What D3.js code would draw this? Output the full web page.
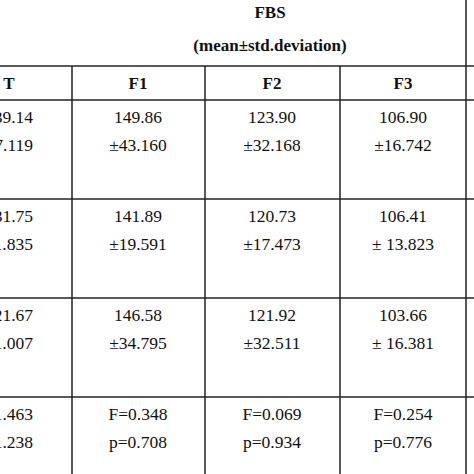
<!DOCTYPE html><html><head><meta charset="utf-8"><script src="https://cdn.jsdelivr.net/npm/d3@7"></script>
<style>body{margin:0;background:#fff}</style></head><body><svg id="c" width="474" height="474"></svg>
<script>
const columns=["T","F1","F2","F3"];
const meanRow=[["139.14","149.86","123.90","106.90"],["131.75","141.89","120.73","106.41"],["121.67","146.58","121.92","103.66"]];
const sdRow=[["±27.119","±43.160","±32.168","±16.742"],["±11.835","±19.591","±17.473","± 13.823"],["±11.007","±34.795","±32.511","± 16.381"]];
const statRow1=["1.463","F=0.348","F=0.069","F=0.254"];
const statRow2=["1.238","p=0.708","p=0.934","p=0.776"];
const svg=d3.select("#c");
const font="'Liberation Serif','DejaVu Serif',serif";
const x=d3.scaleOrdinal().domain(columns).range([-30,138,272,403]);
const lines=[72,205,340,466];
const rows=d3.scaleLinear().domain([0,4]).range([100,496]);
const g=svg.append("g").attr("stroke","#222").attr("stroke-width",1.5);
g.append("line").attr("x1",0).attr("x2",474).attr("y1",66).attr("y2",66);
[0,1,2,3].forEach(i=>g.append("line").attr("x1",0).attr("x2",474).attr("y1",rows(i)).attr("y2",rows(i)));
lines.forEach((lx,i)=>g.append("line").attr("x1",lx).attr("x2",lx).attr("y1",i==3?0:66).attr("y2",474));
const t=(s,xx,yy,b,anchor,fs)=>svg.append("text").attr("x",xx).attr("y",yy).attr("text-anchor",anchor||"middle").attr("font-family",font).attr("font-size",fs||17.5).attr("font-weight",b?"bold":"normal").attr("fill","#111").text(s);
t("FBS",270,18,true,"middle",17);t("(mean±std.deviation)",270,51,true,"middle",17);
columns.forEach((c,i)=>t(c,i==0?9:x(c),89,true,"middle",17));
const colx=i=>i==0?33:x(columns[i]);
meanRow.forEach((r,ri)=>r.forEach((v,i)=>{t(v,colx(i),rows(ri)+23,false,i==0?"end":"middle");t(sdRow[ri][i],colx(i),rows(ri)+51,false,i==0?"end":"middle");}));
statRow1.forEach((v,i)=>t(v,colx(i),rows(3)+23,false,i==0?"end":"middle"));
statRow2.forEach((v,i)=>t(v,colx(i),rows(3)+51,false,i==0?"end":"middle"));
</script></body></html>
